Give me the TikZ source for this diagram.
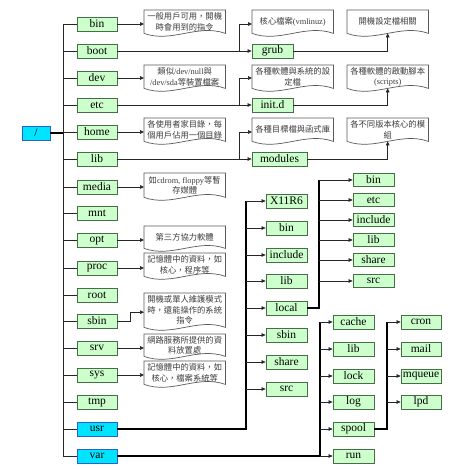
\documentclass[tikz,border=0pt]{standalone}
\usepackage{fontspec}
\setmainfont{Liberation Serif}
\newfontfamily\cjk{Noto Sans CJK TC}
\usetikzlibrary{arrows.meta,calc}
\definecolor{gfill}{RGB}{204,255,204}
\definecolor{gdraw}{RGB}{70,110,70}
\definecolor{cfill}{RGB}{0,228,255}
\definecolor{cdraw}{RGB}{40,100,200}
\definecolor{dline}{RGB}{90,90,90}
\definecolor{dtext}{RGB}{60,60,60}
\newcommand\lat[1]{{\rmfamily #1}}
\newcommand\docshape[1]{\draw[dline, line width=0.7pt] (#1.south west) -- (#1.north west) -- (#1.north east) -- (#1.south east) .. controls ($(#1.south east)+(-28,-10)$) and ($(#1.south west)+(28,10)$) .. (#1.south west);}
\begin{document}
\begin{tikzpicture}[x=1pt,y=-1pt,
  dir/.style={draw=gdraw, fill=gfill, line width=0.8pt, minimum width=40pt, minimum height=14pt, inner sep=0pt, font=\fontsize{11.5}{12}\selectfont},
  cdir/.style={dir, draw=cdraw, fill=cfill},
  doc/.style={anchor=north west, minimum width=81pt, minimum height=23pt, inner sep=1pt, align=center, text=dtext, font=\cjk\fontsize{8.3}{10.5}\selectfont},
  ln/.style={line width=0.7pt, draw=black!85},
  thk/.style={line width=1.1pt, draw=black},
  arr/.style={ln, -{Triangle[length=4pt,width=3.6pt]}}]
\fill[white] (0,0) rectangle (474,470);
\useasboundingbox (0,0) rectangle (474,470);
% column coordinates
\coordinate (T) at (63,0);
\coordinate (BR) at (239,0);
\coordinate (U) at (246,0);
\coordinate (LC) at (319,0);
\coordinate (V) at (320,0);
\coordinate (S) at (387,0);
% root
\node[cdir, minimum width=28pt] (rt) at (36,133) {/};
% left column
\node[dir] (bin) at (97,24) {bin};
\node[dir] (boot) at (97,51) {boot};
\node[dir] (dev) at (97,78) {dev};
\node[dir] (etc) at (97,105) {etc};
\node[dir] (home) at (97,132) {home};
\node[dir] (lib) at (97,159) {lib};
\node[dir] (media) at (97,187) {media};
\node[dir] (mnt) at (97,213) {mnt};
\node[dir] (opt) at (97,240) {opt};
\node[dir] (proc) at (97,268) {proc};
\node[dir] (root) at (97,295) {root};
\node[dir] (sbin) at (97,321) {sbin};
\node[dir] (srv) at (97,348) {srv};
\node[dir] (sys) at (97,375) {sys};
\node[dir] (tmp) at (97,402) {tmp};
\node[cdir] (usr) at (97,429) {usr};
\node[cdir] (var) at (97,456) {var};
\draw[thk] (rt.east) -- (rt -| T);
\draw[ln] (bin -| T) -- (var -| T);
\foreach \n in {bin,boot,dev,etc,home,lib,media,mnt,opt,proc,root,sbin,srv,sys,tmp}
  \draw[ln] (\n -| T) -- (\n.west);
\draw[ln] (usr -| T) -- (usr.west);
\draw[ln] (var -| T) -- (var.west);
% left documents
\node[doc] (dbin) at (144,10) {一般用戶可用，開機\\時會用到的指令};
\node[doc] (ddev) at (144,65) {類似\lat{/dev/null}與\\\lat{/dev/sda}等裝置檔案};
\node[doc] (dhome) at (144,118) {各使用者家目錄，每\\個用戶佔用一個目錄};
\node[doc, minimum height=24pt] (dmedia) at (144,173) {如\lat{cdrom, floppy}等暫\\存媒體};
\node[doc, minimum height=22pt] (dopt) at (144,226) {第三方協力軟體};
\node[doc] (dproc) at (144,253) {記憶體中的資料，如\\核心，程序等};
\node[doc, minimum height=34pt] (dsbin) at (144,293) {開機或單人維護模式\\時，還能操作的系統\\指令};
\node[doc, minimum height=22pt] (dsrv) at (144,334) {網路服務所提供的資\\料放置處};
\node[doc] (dsys) at (144,361) {記憶體中的資料，如\\核心，檔案系統等};
\foreach \d in {dbin,ddev,dhome,dmedia,dopt,dproc,dsbin,dsrv,dsys} {\docshape{\d}}
\draw[arr] (bin.east) -- (bin -| dbin.west);
\draw[arr] (dev.east) -- (dev -| ddev.west);
\draw[arr] (home.east) -- (home -| dhome.west);
\draw[arr] (media.east) -- (media -| dmedia.west);
\draw[arr] (opt.east) -- (opt -| dopt.west);
\draw[arr] (proc.east) -- (proc -| dproc.west);
\draw[arr] (sbin.east) -- ++(13,0) |- ($(dsbin.west)+(0,2)$);
\draw[arr] (srv.east) -- (srv -| dsrv.west);
\draw[arr] (sys.east) -- (sys -| dsys.west);
% boot
\node[dir, minimum width=41pt] (grub) at (272.5,51) {grub};
\node[doc] (dkern) at (252,10) {核心檔案\lat{(vmlinuz)}};
\node[doc] (dgrub) at (347,10) {開機設定檔相關};
% etc
\node[dir, minimum width=41pt] (initd) at (272.5,105) {init.d};
\node[doc] (detc) at (252,65) {各種軟體與系統的設\\定檔};
\node[doc] (dinit) at (347,65) {各種軟體的啟動腳本\\\lat{(scripts)}};
% lib
\node[dir, minimum width=55pt] (modules) at (279.5,159) {modules};
\node[doc] (dlib) at (252,118) {各種目標檔與函式庫};
\node[doc] (dmod) at (347,118) {各不同版本核心的模\\組};
\foreach \d in {dkern,dgrub,detc,dinit,dlib,dmod} {\docshape{\d}}
\draw[arr] (boot.east) -- (grub.west);
\draw[arr] (boot -| BR) |- (bin -| dkern.west);
\draw[arr] (grub.east) -| (dgrub.south);
\draw[arr] (etc.east) -- (initd.west);
\draw[arr] (etc -| BR) |- (dev -| detc.west);
\draw[arr] (initd.east) -| (dinit.south);
\draw[arr] (lib.east) -- (modules.west);
\draw[arr] (lib -| BR) |- (home -| dlib.west);
\draw[arr] (modules.east) -| (dmod.south);
% usr
\node[dir, minimum width=41pt] (x11) at (286.5,201) {X11R6};
\node[dir, minimum width=41pt] (ubin) at (286.5,228) {bin};
\node[dir, minimum width=41pt] (uinc) at (286.5,255) {include};
\node[dir, minimum width=41pt] (ulib) at (286.5,281) {lib};
\node[dir, minimum width=41pt] (local) at (286.5,308) {local};
\node[dir, minimum width=41pt] (usbin) at (286.5,335) {sbin};
\node[dir, minimum width=41pt] (ushare) at (286.5,362) {share};
\node[dir, minimum width=41pt] (usrc) at (286.5,389) {src};
\draw[thk] (usr.east) -- (usr -| U) -- (x11 -| U);
\foreach \n in {x11,ubin,uinc,ulib,local,usbin,ushare,usrc}
  \draw[arr] (\n -| U) -- (\n.west);
% local
\node[dir, minimum width=41pt, minimum height=13pt] (lbin) at (373.5,180) {bin};
\node[dir, minimum width=41pt, minimum height=13pt] (letc) at (373.5,200) {etc};
\node[dir, minimum width=41pt, minimum height=13pt] (linc) at (373.5,220) {include};
\node[dir, minimum width=41pt, minimum height=13pt] (llib) at (373.5,240) {lib};
\node[dir, minimum width=41pt, minimum height=13pt] (lshare) at (373.5,260) {share};
\node[dir, minimum width=41pt, minimum height=13pt] (lsrc) at (373.5,281) {src};
\draw[thk] (local.east) -- (local -| LC) -- (lbin -| LC);
\foreach \n in {lbin,letc,linc,llib,lshare,lsrc}
  \draw[arr] (\n -| LC) -- (\n.west);
% var
\node[dir, minimum width=41pt] (cache) at (353.5,322) {cache};
\node[dir, minimum width=41pt] (vlib) at (353.5,349) {lib};
\node[dir, minimum width=41pt] (lock) at (353.5,376) {lock};
\node[dir, minimum width=41pt] (log) at (353.5,402) {log};
\node[dir, minimum width=41pt] (spool) at (353.5,429) {spool};
\node[dir, minimum width=41pt] (run) at (353.5,456) {run};
\draw[thk] (var.east) -- (var -| V) -- (cache -| V);
\foreach \n in {cache,vlib,lock,log,spool,run}
  \draw[arr] (\n -| V) -- (\n.west);
% spool
\node[dir] (cron) at (421,322) {cron};
\node[dir] (mail) at (421,349) {mail};
\node[dir] (mqueue) at (421,376) {mqueue};
\node[dir] (lpd) at (421,402) {lpd};
\draw[thk] (spool.east) -- (spool -| S) -- (cron -| S);
\foreach \n in {cron,mail,mqueue,lpd}
  \draw[arr] (\n -| S) -- (\n.west);
\end{tikzpicture}
\end{document}
